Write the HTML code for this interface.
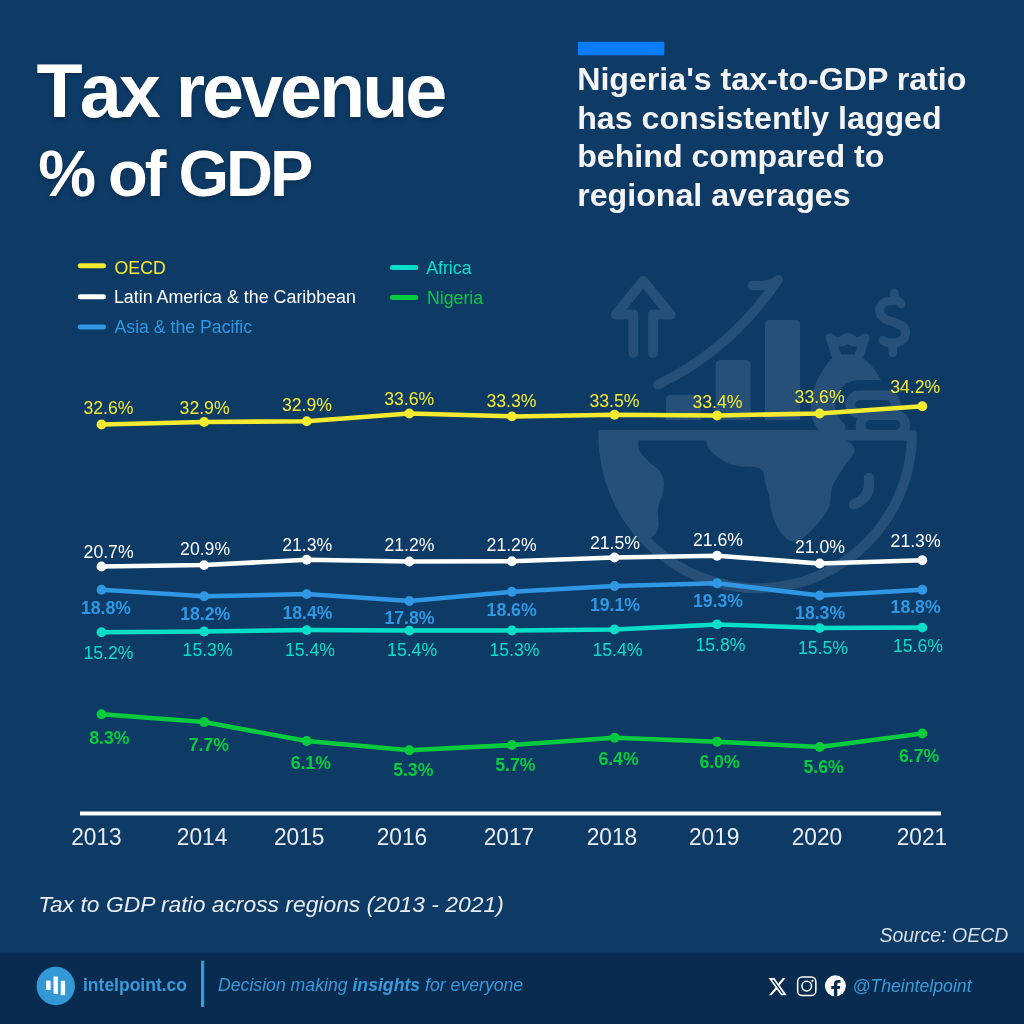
<!DOCTYPE html>
<html><head><meta charset="utf-8"><title>Tax revenue % of GDP</title>
<style>
html,body{margin:0;padding:0;}
body{width:1024px;height:1024px;overflow:hidden;background:#0d3b66;font-family:"Liberation Sans",sans-serif;}
#c{position:relative;width:1024px;height:1024px;background:#0d3b66;overflow:hidden;}
#c svg{position:absolute;left:0;top:0;will-change:transform;}
svg text{font-family:"Liberation Sans",sans-serif;}
</style></head><body>
<div id="c">
<svg width="1024" height="1024" viewBox="0 0 1024 1024">
<rect x="0" y="952.5" width="1024" height="72" fill="#092b4f"/>
<g id="wm">
<defs><clipPath id="bowlclip"><path d="M 598.3,430 H 917 V 434 A 159.35 159.35 0 0 1 598.3,434 Z"/></clipPath><clipPath id="aboverim"><rect x="780" y="300" width="160" height="130"/></clipPath></defs>
<path d="M 666,420 V 399.8 Q 666,394.8 671,394.8 H 695.6 Q 700.6,394.8 700.6,399.8 V 420 Z" fill="#265078"/>
<path d="M 715.6,420 V 365 Q 715.6,360 720.6,360 H 745.6 Q 750.6,360 750.6,365 V 420 Z" fill="#265078"/>
<path d="M 764.9,420 V 325 Q 764.9,320 769.9,320 H 795 Q 800,320 800,325 V 420 Z" fill="#265078"/>
<path d="M 633.3,353 V 314.6 H 615.8 L 643.2,281 L 670.6,314.6 H 653 V 353" fill="none" stroke="#265078" stroke-width="9.9" stroke-linejoin="round" stroke-linecap="round"/>
<path d="M 657.8,384.7 Q 731,349.5 778.1,279.8" fill="none" stroke="#265078" stroke-width="9.5" stroke-linecap="round"/>
<path d="M 752.4,285.6 H 762 Q 771,285 778.1,279.8" fill="none" stroke="#265078" stroke-width="9.3" stroke-linecap="round" stroke-linejoin="round"/>
<path d="M 894.3,293 V 297 M 892.7,346 V 352.6 M 901.3,304 C 899,299.5 894,300.8 891,300.8 C 884,300.8 879.7,305 879.7,310.5 C 879.7,318 887,320 893,322 C 900,324.5 905.7,326 905.7,333 C 905.7,339 900,343 893,343 C 888,343 885,342 882.9,340.3" fill="none" stroke="#265078" stroke-width="8.8" stroke-linecap="round"/>
<g clip-path="url(#aboverim)">
<path d="M 833,357 C 822,368 810.8,388 810.8,407 C 810.8,420 816,428 823,434 H 886 V 393 C 883,380 874,367 862.3,357 Z" fill="#265078"/>
<path d="M 825.9,338.6 A 4.7 4.7 0 0 1 834.3,335.3 Q 838,338.6 841.5,335.6 Q 847.7,330.6 853.9,335.6 Q 857.4,338.6 861.1,335.3 A 4.7 4.7 0 0 1 869.5,338.6 L 862.8,359 H 832.5 Z" fill="#265078"/>
<path d="M 838,346.2 Q 843,347 847.7,344.2 Q 852.5,347 857.4,346.2 L 854.7,354.4 H 841.2 Z" fill="#0d3b66"/>
<rect x="850.3" y="395.25" width="45.3" height="18.5" rx="9" fill="#0d3b66" stroke="#0d3b66" stroke-width="30.5"/>
<rect x="860.5" y="415.1" width="44.8" height="25" rx="9" fill="#0d3b66" stroke="#0d3b66" stroke-width="30.5"/>
<rect x="850.3" y="395.25" width="45.3" height="18.5" rx="9.25" fill="none" stroke="#265078" stroke-width="9.7"/>
<rect x="860.5" y="415.1" width="44.8" height="19.75" rx="9.9" fill="none" stroke="#265078" stroke-width="9.7"/>
</g>
<path d="M 598.3,434 Q 598.3,430 602.3,430 H 913 Q 917,430 917,434 A 159.35 159.35 0 0 1 598.3,434 Z" fill="#265078"/>
<path d="M 608.45,440.6 H 906.85 A 149.35 149.35 0 0 1 608.45,440.6 Z" fill="#0d3b66"/>
<g clip-path="url(#bowlclip)">
<path d="M 638.2,439.6 C 638.2,439.7 638.0,438.6 638.2,440.4 C 638.4,442.2 637.9,447.2 639.5,450.6 C 641.1,454.0 644.8,457.6 648.1,460.9 C 651.4,464.2 656.6,466.9 659.2,470.3 C 661.8,473.7 663.2,477.6 663.8,481.4 C 664.4,485.2 663.5,489.0 662.6,493.3 C 661.7,497.6 659.1,503.0 658.3,507.0 C 657.5,511.0 657.9,514.1 658.0,517.2 C 658.1,520.3 659.1,523.1 658.7,525.8 C 658.3,528.5 657.3,531.5 655.8,533.5 C 654.3,535.5 650.8,537.3 649.8,538.1 L 640,548 L 590,548 L 590,439.6 Z" fill="#265078"/>
<path d="M 705.8,439.6 C 705.8,439.8 705.2,438.9 705.8,440.5 C 706.4,442.1 706.7,446.1 709.3,449.3 C 711.9,452.5 716.9,457.1 721.6,459.9 C 726.3,462.7 731.9,464.8 737.5,466.0 C 743.1,467.2 750.8,466.4 755.0,467.3 C 759.2,468.2 761.4,469.0 763.0,471.3 C 764.6,473.6 763.7,477.1 764.7,481.0 C 765.7,484.9 768.1,490.3 769.1,495.0 C 770.1,499.7 769.7,504.1 770.9,509.1 C 772.1,514.1 774.0,520.5 776.1,524.9 C 778.2,529.3 780.6,532.7 783.2,535.5 C 785.9,538.3 788.8,541.2 792.0,541.6 C 795.2,542.0 798.4,540.9 802.5,538.1 C 806.6,535.3 812.2,530.0 816.6,524.9 C 821.0,519.8 826.4,513.1 828.9,507.3 C 831.4,501.5 830.3,494.5 831.5,489.8 C 832.7,485.1 833.1,483.9 835.9,479.2 C 838.7,474.5 845.1,466.1 848.2,461.6 C 851.3,457.1 853.7,454.8 854.4,452.0 C 855.1,449.2 853.9,446.8 852.6,444.9 C 851.3,443.0 847.4,441.4 846.4,440.5 C 845.4,439.6 846.4,439.8 846.4,439.6 Z" fill="#265078"/>
</g>
<path d="M 868.8,477.8 Q 871.8,497.5 853.7,504.5" fill="none" stroke="#265078" stroke-width="10.2" stroke-linecap="round"/>
</g>
<g id="titles">
<text x="36.6" y="116.8" fill="#fff" font-size="75.5" font-weight="bold" letter-spacing="-3" style="font-kerning:none;filter:drop-shadow(0 2px 2px rgba(0,0,0,.25))">Tax revenue</text>
<text x="38.2" y="196.2" fill="#fff" font-size="65" font-weight="bold" letter-spacing="-3" style="font-kerning:none;filter:drop-shadow(0 2px 2px rgba(0,0,0,.25))">% of GDP</text>
<rect x="578" y="41.8" width="86.3" height="13.5" fill="#0a7dff"/>
<g fill="#f4f4f4" font-size="32.15" font-weight="bold">
<text x="577.2" y="89.9">Nigeria's tax-to-GDP ratio</text>
<text x="577.2" y="128.6">has consistently lagged</text>
<text x="577.2" y="167.3">behind compared to</text>
<text x="577.2" y="206">regional averages</text>
</g>
</g>
<g id="legend" font-size="17.7" stroke-linecap="round" stroke-width="5">
<line x1="80.3" x2="103.5" y1="265.75" y2="265.75" stroke="#f5ec2f"/>
<text x="114.6" y="273.7" fill="#f5ec2f">OECD</text>
<line x1="80.3" x2="103.5" y1="296.75" y2="296.75" stroke="#ffffff"/>
<text x="113.9" y="303.4" fill="#ffffff" font-size="17.85">Latin America &amp; the Caribbean</text>
<line x1="80.3" x2="103.5" y1="327" y2="327" stroke="#2f97e3"/>
<text x="114.5" y="333.1" fill="#2f97e3">Asia &amp; the Pacific</text>
<line x1="392.5" x2="415.75" y1="267.5" y2="267.5" stroke="#05dfc9"/>
<text x="426.25" y="274" fill="#05dfc9">Africa</text>
<line x1="392.5" x2="415.75" y1="297.5" y2="297.5" stroke="#05cc3e"/>
<text x="427" y="303.75" fill="#05cc3e">Nigeria</text>
</g>
<g id="chart">
<polyline points="101.5,424.5 204.1,422 306.7,421.25 409.3,413.5 511.9,416.4 614.5,414.75 717.1,415.5 819.7,413.5 922.3,406.25" fill="none" stroke="#f5ec2f" stroke-width="4.55" stroke-linejoin="round" stroke-linecap="round"/>
<circle cx="101.5" cy="424.5" r="4.9" fill="#f5ec2f"/>
<circle cx="204.1" cy="422" r="4.9" fill="#f5ec2f"/>
<circle cx="306.7" cy="421.25" r="4.9" fill="#f5ec2f"/>
<circle cx="409.3" cy="413.5" r="4.9" fill="#f5ec2f"/>
<circle cx="511.9" cy="416.4" r="4.9" fill="#f5ec2f"/>
<circle cx="614.5" cy="414.75" r="4.9" fill="#f5ec2f"/>
<circle cx="717.1" cy="415.5" r="4.9" fill="#f5ec2f"/>
<circle cx="819.7" cy="413.5" r="4.9" fill="#f5ec2f"/>
<circle cx="922.3" cy="406.25" r="4.9" fill="#f5ec2f"/>
<text x="108.5" y="413.5" fill="#f5ec2f" font-size="17.65" text-anchor="middle">32.6%</text>
<text x="204.6" y="413.5" fill="#f5ec2f" font-size="17.65" text-anchor="middle">32.9%</text>
<text x="306.9" y="410.5" fill="#f5ec2f" font-size="17.65" text-anchor="middle">32.9%</text>
<text x="409.25" y="405" fill="#f5ec2f" font-size="17.65" text-anchor="middle">33.6%</text>
<text x="511.5" y="407" fill="#f5ec2f" font-size="17.65" text-anchor="middle">33.3%</text>
<text x="614.5" y="407" fill="#f5ec2f" font-size="17.65" text-anchor="middle">33.5%</text>
<text x="717.5" y="407.5" fill="#f5ec2f" font-size="17.65" text-anchor="middle">33.4%</text>
<text x="819.6" y="402.75" fill="#f5ec2f" font-size="17.65" text-anchor="middle">33.6%</text>
<text x="915.25" y="392.75" fill="#f5ec2f" font-size="17.65" text-anchor="middle">34.2%</text>
<polyline points="101.5,566.5 204.1,565.1 306.7,559.75 409.3,561.5 511.9,561.25 614.5,557.5 717.1,555.75 819.7,563.5 922.3,560.25" fill="none" stroke="#ffffff" stroke-width="4.55" stroke-linejoin="round" stroke-linecap="round"/>
<circle cx="101.5" cy="566.5" r="4.9" fill="#ffffff"/>
<circle cx="204.1" cy="565.1" r="4.9" fill="#ffffff"/>
<circle cx="306.7" cy="559.75" r="4.9" fill="#ffffff"/>
<circle cx="409.3" cy="561.5" r="4.9" fill="#ffffff"/>
<circle cx="511.9" cy="561.25" r="4.9" fill="#ffffff"/>
<circle cx="614.5" cy="557.5" r="4.9" fill="#ffffff"/>
<circle cx="717.1" cy="555.75" r="4.9" fill="#ffffff"/>
<circle cx="819.7" cy="563.5" r="4.9" fill="#ffffff"/>
<circle cx="922.3" cy="560.25" r="4.9" fill="#ffffff"/>
<text x="108.6" y="558.25" fill="#ffffff" font-size="17.65" text-anchor="middle">20.7%</text>
<text x="205.1" y="555.25" fill="#ffffff" font-size="17.65" text-anchor="middle">20.9%</text>
<text x="307.25" y="550.5" fill="#ffffff" font-size="17.65" text-anchor="middle">21.3%</text>
<text x="409.4" y="550.5" fill="#ffffff" font-size="17.65" text-anchor="middle">21.2%</text>
<text x="511.6" y="550.5" fill="#ffffff" font-size="17.65" text-anchor="middle">21.2%</text>
<text x="614.9" y="548.5" fill="#ffffff" font-size="17.65" text-anchor="middle">21.5%</text>
<text x="718" y="546" fill="#ffffff" font-size="17.65" text-anchor="middle">21.6%</text>
<text x="820" y="552.5" fill="#ffffff" font-size="17.65" text-anchor="middle">21.0%</text>
<text x="915.6" y="546.5" fill="#ffffff" font-size="17.65" text-anchor="middle">21.3%</text>
<polyline points="101.5,589.75 204.1,596.25 306.7,594.1 409.3,601 511.9,591.75 614.5,586 717.1,583.25 819.7,595.5 922.3,589.75" fill="none" stroke="#2f97e3" stroke-width="4.55" stroke-linejoin="round" stroke-linecap="round"/>
<circle cx="101.5" cy="589.75" r="4.9" fill="#2f97e3"/>
<circle cx="204.1" cy="596.25" r="4.9" fill="#2f97e3"/>
<circle cx="306.7" cy="594.1" r="4.9" fill="#2f97e3"/>
<circle cx="409.3" cy="601" r="4.9" fill="#2f97e3"/>
<circle cx="511.9" cy="591.75" r="4.9" fill="#2f97e3"/>
<circle cx="614.5" cy="586" r="4.9" fill="#2f97e3"/>
<circle cx="717.1" cy="583.25" r="4.9" fill="#2f97e3"/>
<circle cx="819.7" cy="595.5" r="4.9" fill="#2f97e3"/>
<circle cx="922.3" cy="589.75" r="4.9" fill="#2f97e3"/>
<text x="106" y="613.5" fill="#2f97e3" font-size="17.65" font-weight="bold" text-anchor="middle">18.8%</text>
<text x="205.25" y="620.25" fill="#2f97e3" font-size="17.65" font-weight="bold" text-anchor="middle">18.2%</text>
<text x="307.4" y="619.25" fill="#2f97e3" font-size="17.65" font-weight="bold" text-anchor="middle">18.4%</text>
<text x="409.4" y="624" fill="#2f97e3" font-size="17.65" font-weight="bold" text-anchor="middle">17.8%</text>
<text x="511.6" y="616.25" fill="#2f97e3" font-size="17.65" font-weight="bold" text-anchor="middle">18.6%</text>
<text x="615" y="611" fill="#2f97e3" font-size="17.65" font-weight="bold" text-anchor="middle">19.1%</text>
<text x="718" y="606.5" fill="#2f97e3" font-size="17.65" font-weight="bold" text-anchor="middle">19.3%</text>
<text x="820.1" y="619" fill="#2f97e3" font-size="17.65" font-weight="bold" text-anchor="middle">18.3%</text>
<text x="915.6" y="613" fill="#2f97e3" font-size="17.65" font-weight="bold" text-anchor="middle">18.8%</text>
<polyline points="101.5,632.25 204.1,631.5 306.7,630.1 409.3,630.6 511.9,630.5 614.5,629.5 717.1,624.4 819.7,628.1 922.3,627.6" fill="none" stroke="#05dfc9" stroke-width="4.55" stroke-linejoin="round" stroke-linecap="round"/>
<circle cx="101.5" cy="632.25" r="4.9" fill="#05dfc9"/>
<circle cx="204.1" cy="631.5" r="4.9" fill="#05dfc9"/>
<circle cx="306.7" cy="630.1" r="4.9" fill="#05dfc9"/>
<circle cx="409.3" cy="630.6" r="4.9" fill="#05dfc9"/>
<circle cx="511.9" cy="630.5" r="4.9" fill="#05dfc9"/>
<circle cx="614.5" cy="629.5" r="4.9" fill="#05dfc9"/>
<circle cx="717.1" cy="624.4" r="4.9" fill="#05dfc9"/>
<circle cx="819.7" cy="628.1" r="4.9" fill="#05dfc9"/>
<circle cx="922.3" cy="627.6" r="4.9" fill="#05dfc9"/>
<text x="108.4" y="659" fill="#05dfc9" font-size="17.65" text-anchor="middle">15.2%</text>
<text x="207.6" y="656.25" fill="#05dfc9" font-size="17.65" text-anchor="middle">15.3%</text>
<text x="310" y="656.25" fill="#05dfc9" font-size="17.65" text-anchor="middle">15.4%</text>
<text x="412.1" y="656.25" fill="#05dfc9" font-size="17.65" text-anchor="middle">15.4%</text>
<text x="514.5" y="655.5" fill="#05dfc9" font-size="17.65" text-anchor="middle">15.3%</text>
<text x="617.5" y="655.5" fill="#05dfc9" font-size="17.65" text-anchor="middle">15.4%</text>
<text x="720.5" y="651.25" fill="#05dfc9" font-size="17.65" text-anchor="middle">15.8%</text>
<text x="822.9" y="654.25" fill="#05dfc9" font-size="17.65" text-anchor="middle">15.5%</text>
<text x="918" y="652.25" fill="#05dfc9" font-size="17.65" text-anchor="middle">15.6%</text>
<polyline points="101.5,714.25 204.1,722 306.7,741 409.3,750.25 511.9,745 614.5,737.75 717.1,741.75 819.7,747 922.3,733.5" fill="none" stroke="#05cc3e" stroke-width="4.55" stroke-linejoin="round" stroke-linecap="round"/>
<circle cx="101.5" cy="714.25" r="4.9" fill="#05cc3e"/>
<circle cx="204.1" cy="722" r="4.9" fill="#05cc3e"/>
<circle cx="306.7" cy="741" r="4.9" fill="#05cc3e"/>
<circle cx="409.3" cy="750.25" r="4.9" fill="#05cc3e"/>
<circle cx="511.9" cy="745" r="4.9" fill="#05cc3e"/>
<circle cx="614.5" cy="737.75" r="4.9" fill="#05cc3e"/>
<circle cx="717.1" cy="741.75" r="4.9" fill="#05cc3e"/>
<circle cx="819.7" cy="747" r="4.9" fill="#05cc3e"/>
<circle cx="922.3" cy="733.5" r="4.9" fill="#05cc3e"/>
<text x="109.4" y="743.75" fill="#05cc3e" font-size="17.65" font-weight="bold" text-anchor="middle">8.3%</text>
<text x="208.9" y="751.25" fill="#05cc3e" font-size="17.65" font-weight="bold" text-anchor="middle">7.7%</text>
<text x="310.75" y="769" fill="#05cc3e" font-size="17.65" font-weight="bold" text-anchor="middle">6.1%</text>
<text x="413.25" y="775.5" fill="#05cc3e" font-size="17.65" font-weight="bold" text-anchor="middle">5.3%</text>
<text x="515.4" y="770.5" fill="#05cc3e" font-size="17.65" font-weight="bold" text-anchor="middle">5.7%</text>
<text x="618.5" y="765" fill="#05cc3e" font-size="17.65" font-weight="bold" text-anchor="middle">6.4%</text>
<text x="719.5" y="767.5" fill="#05cc3e" font-size="17.65" font-weight="bold" text-anchor="middle">6.0%</text>
<text x="823.6" y="773.25" fill="#05cc3e" font-size="17.65" font-weight="bold" text-anchor="middle">5.6%</text>
<text x="919.1" y="762" fill="#05cc3e" font-size="17.65" font-weight="bold" text-anchor="middle">6.7%</text>
<text transform="translate(96.5,844.85) scale(1,1.03)" x="0" y="0" fill="#e9edf2" font-size="22.7" text-anchor="middle">2013</text>
<text transform="translate(202.1,844.85) scale(1,1.03)" x="0" y="0" fill="#e9edf2" font-size="22.7" text-anchor="middle">2014</text>
<text transform="translate(299.25,844.85) scale(1,1.03)" x="0" y="0" fill="#e9edf2" font-size="22.7" text-anchor="middle">2015</text>
<text transform="translate(401.9,844.85) scale(1,1.03)" x="0" y="0" fill="#e9edf2" font-size="22.7" text-anchor="middle">2016</text>
<text transform="translate(508.9,844.85) scale(1,1.03)" x="0" y="0" fill="#e9edf2" font-size="22.7" text-anchor="middle">2017</text>
<text transform="translate(611.9,844.85) scale(1,1.03)" x="0" y="0" fill="#e9edf2" font-size="22.7" text-anchor="middle">2018</text>
<text transform="translate(714.25,844.85) scale(1,1.03)" x="0" y="0" fill="#e9edf2" font-size="22.7" text-anchor="middle">2019</text>
<text transform="translate(817,844.85) scale(1,1.03)" x="0" y="0" fill="#e9edf2" font-size="22.7" text-anchor="middle">2020</text>
<text transform="translate(922,844.85) scale(1,1.03)" x="0" y="0" fill="#e9edf2" font-size="22.7" text-anchor="middle">2021</text>
<rect x="80" y="811.5" width="861" height="3.95" fill="#ffffff"/>
</g>
<g id="captions" font-style="italic">
<text x="38.2" y="912" fill="#e9edf2" font-size="22.85">Tax to GDP ratio across regions (2013 - 2021)</text>
<text x="1008.4" y="941.6" fill="#d9dee6" font-size="19.5" text-anchor="end">Source: OECD</text>
</g>
<g id="footer">
<circle cx="55.75" cy="986" r="19.2" fill="#3399d6"/>
<rect x="46.1" y="980.6" width="4.5" height="9.4" fill="#fff"/>
<rect x="53.5" y="976.5" width="4.4" height="17.4" fill="#fff"/>
<rect x="60.8" y="980.75" width="4.3" height="14.4" fill="#fff"/>
<text x="83" y="991.25" fill="#3a9ad9" font-size="17.5" font-weight="bold">intelpoint.co</text>
<rect x="201" y="960.75" width="3.2" height="46.25" fill="#3a9ad9"/>
<text x="218" y="990.8" fill="#3a9ad9" font-size="17.66" font-style="italic">Decision making <tspan font-weight="bold">insights</tspan> for everyone</text>
<g transform="translate(767.55,976.05) scale(0.84,0.88)"><path fill="#fff" d="M18.244 2.25h3.308l-7.227 8.26 8.502 11.24H16.17l-5.214-6.817L4.99 21.75H1.68l7.73-8.835L1.254 2.25H8.08l4.713 6.231zm-1.161 17.52h1.833L7.084 4.126H5.117z"/></g>
<rect x="797.65" y="977.05" width="18.2" height="18.5" rx="4.6" fill="none" stroke="#fff" stroke-width="1.5"/>
<circle cx="806.7" cy="986.1" r="4.8" fill="none" stroke="#fff" stroke-width="1.5"/>
<circle cx="812.4" cy="980.8" r="1.15" fill="#fff"/>
<circle cx="835.4" cy="985.8" r="10.5" fill="#fff"/>
<path d="M 833.9,996.6 V 989 H 831.3 V 986 H 833.9 V 984 C 833.9,981.2 835.6,979.9 837.9,979.9 C 839,979.9 840,980 840.5,980.1 V 982.8 H 839 C 837.7,982.8 837.3,983.4 837.3,984.4 V 986 H 840.3 L 839.8,989 H 837.3 V 996.6 Z" fill="#092b4f"/>

<text x="852.4" y="992.2" fill="#3a9ad9" font-size="17.7" font-style="italic">@Theintelpoint</text>
</g>
</svg>
</div>
</body></html>
